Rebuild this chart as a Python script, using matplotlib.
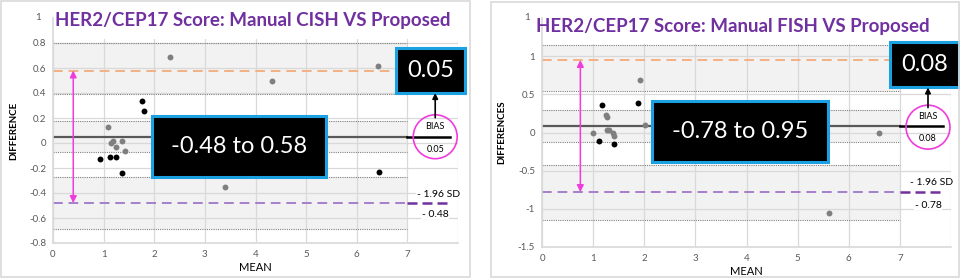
import numpy as np
import matplotlib as mpl
from matplotlib import pyplot as plt
from matplotlib.patches import Rectangle

mpl.rcParams['font.family'] = ['Lato', 'DejaVu Sans']

# ---- CISH panel data ----
cish_gray_x = [2.31, 1.08, 1.15, 1.18, 1.37, 1.25, 1.42, 6.41, 4.33, 3.39]
cish_gray_y = [0.69, 0.13, 0.00, 0.02, 0.02, -0.03, -0.06, 0.62, 0.50, -0.35]
cish_black_x = [1.76, 1.80, 0.92, 1.13, 1.25, 1.37, 6.44]
cish_black_y = [0.34, 0.26, -0.13, -0.11, -0.11, -0.24, -0.23]
cish_bias = 0.05
cish_upper = 0.58
cish_lower = -0.48
cish_band_edges = [(0.39, 0.80), (-0.07, 0.18), (-0.69, -0.27)]
cish_yticks = [-0.8, -0.6, -0.4, -0.2, 0, 0.2, 0.4, 0.6, 0.8]

# ---- FISH panel data ----
fish_gray_x = [1.92, 1.25, 1.27, 2.01, 1.27, 1.32, 1.38, 1.41, 0.99, 6.59, 5.61]
fish_gray_y = [0.69, 0.23, 0.20, 0.10, 0.03, 0.035, 0.00, -0.05, -0.01, -0.01, -1.06]
fish_black_x = [1.88, 1.18, 1.12, 1.41]
fish_black_y = [0.39, 0.36, -0.11, -0.15]
fish_bias = 0.08
fish_upper = 0.95
fish_lower = -0.78
fish_band_edges = [(0.55, 1.14), (-0.13, 0.29), (-1.14, -0.42)]
fish_yticks = [-1.5, -1, -0.5, 0, 0.5, 1]

xticks = [0, 1, 2, 3, 4, 5, 6, 7]

PURPLE = "#7030A0"
CYAN = "#1BA1E2"
MAGENTA = "#F03CDC"
GRID = "#d9d9d9"


def draw_panel(ax, gx, gy, bx, by, bias, upper, lower, bands, yticks, ylim,
               cover_from, top_label, ylabel, title, title_pos, arrow_x, big_box,
               bias_box, circ_y, bias_txt_y, sd_y):
    ax.set_xlim(0, 8)
    ax.set_ylim(*ylim)
    ax.set_xticks(xticks + [8])
    ax.set_xticklabels([str(t) for t in xticks] + [""])
    ax.set_yticks(yticks)
    ax.set_yticklabels(["{:g}".format(t) for t in yticks])
    ax.tick_params(length=0, labelsize=7, colors="#595959", pad=5)
    ax.grid(True, color=GRID, lw=0.9)
    ax.set_axisbelow(True)
    for s in ["top", "right"]:
        ax.spines[s].set_visible(False)
    for s in ["left", "bottom"]:
        ax.spines[s].set_color(GRID)
        ax.spines[s].set_linewidth(1.2)

    # shaded bands with dotted edges
    for lo, hi in bands:
        ax.fill_between([0, 7], lo, hi, color="#f2f2f2", zorder=0.5, lw=0)
        for v in (lo, hi):
            ax.plot([0, 7], [v, v], ls=(0, (1, 1)), color="#808080", lw=0.8, zorder=1)

    # white cover behind title
    ax.axhspan(cover_from, ylim[1], color="white", zorder=1.5, lw=0)
    ax.text(-0.03, ylim[1], top_label, ha="right", va="center", fontsize=7,
            color="#595959", transform=ax.get_yaxis_transform())

    # limits of agreement and bias
    ax.plot([0, 7], [upper, upper], ls=(0, (5, 3)), color="#F4B183", lw=1.4, zorder=2)
    ax.plot([0, 7], [lower, lower], ls=(0, (5, 3)), color="#A47FCB", lw=1.4, zorder=2)
    ax.plot([7, 7.85], [lower, lower], ls=(0, (4, 2)), color=PURPLE, lw=1.8, zorder=2)
    ax.plot([0, 7], [bias, bias], color="#595959", lw=1.6, zorder=2)
    ax.plot([7, 7.85], [bias, bias], color="black", lw=1.8, zorder=3)

    ax.scatter(gx, gy, s=18, color="#7f7f7f", zorder=4, lw=0)
    ax.scatter(bx, by, s=18, color="black", zorder=4, lw=0)

    # magenta double arrow between limits
    ax.annotate("", xy=(arrow_x, lower), xytext=(arrow_x, upper),
                arrowprops=dict(arrowstyle="<|-|>", color=MAGENTA, lw=1.1,
                                mutation_scale=10, shrinkA=0, shrinkB=0), zorder=5)

    # big black range box
    x0, x1, y0, y1 = big_box
    ax.add_patch(Rectangle((x0, y0), x1 - x0, y1 - y0, facecolor="black",
                           edgecolor=CYAN, lw=2.2, zorder=6, clip_on=False))
    ax.text((x0 + x1) / 2, (y0 + y1) / 2, "{:.2f} to {:.2f}".format(lower, upper),
            ha="center", va="center", color="white", fontsize=17, zorder=7)

    # bias value box
    x0, x1, y0, y1 = bias_box
    ax.add_patch(Rectangle((x0, y0), x1 - x0, y1 - y0, facecolor="black",
                           edgecolor=CYAN, lw=2.2, zorder=6, clip_on=False))
    ax.text((x0 + x1) / 2, (y0 + y1) / 2, "{:.2f}".format(bias),
            ha="center", va="center", color="white", fontsize=17, zorder=7)

    # bias circle
    cx = 7.55
    ax.scatter([cx], [circ_y], s=1000, facecolor="none", edgecolor=MAGENTA,
               lw=1.2, zorder=6, clip_on=False)
    ax.text(cx, bias_txt_y[0], "BIAS", ha="center", va="center", fontsize=6.5, zorder=7)
    ax.text(cx, bias_txt_y[1], "{:.2f}".format(bias), ha="center", va="center",
            fontsize=6.5, zorder=7)
    ax.annotate("", xy=(cx, y0), xytext=(cx, bias_txt_y[0] + (bias_txt_y[0] - bias) * 0.9),
                arrowprops=dict(arrowstyle="-|>", color="black", lw=1.2,
                                mutation_scale=8, shrinkA=0, shrinkB=0), zorder=7,
                annotation_clip=False)

    # -1.96 SD labels
    ax.text(7.62, sd_y[0], "- 1.96 SD", ha="center", va="center", fontsize=7.5,
            zorder=7, bbox=dict(facecolor="white", edgecolor="none", pad=0.5))
    ax.text(7.55, sd_y[1], "- {:.2f}".format(abs(lower)), ha="center", va="center",
            fontsize=7.5, zorder=7, bbox=dict(facecolor="white", edgecolor="none", pad=0.5))

    ax.set_ylabel(ylabel, fontsize=7, fontweight="bold", labelpad=8)
    ax.set_xlabel("MEAN", fontsize=8, labelpad=2)
    ax.text(title_pos[0], title_pos[1], title, transform=ax.transAxes,
            ha="center", va="center", color=PURPLE, fontsize=13.5, fontweight="bold", zorder=8)


fig = plt.figure(figsize=(9.6, 2.78), dpi=100)
ax1 = fig.add_axes([53 / 960, 1 - 243 / 278, 405 / 960, 225 / 278])
ax2 = fig.add_axes([542 / 960, 1 - 247 / 278, 409 / 960, 229 / 278])

draw_panel(ax1, cish_gray_x, cish_gray_y, cish_black_x, cish_black_y,
           cish_bias, cish_upper, cish_lower, cish_band_edges, cish_yticks, (-0.8, 1.0),
           0.83, "1", "DIFFERENCE", "HER2/CEP17 Score: Manual CISH VS Proposed", (0.494, 0.99),
           0.40, (1.96, 5.40, -0.27, 0.22), (6.78, 8.13, 0.40, 0.76),
           0.05, (0.13, -0.05), (-0.41, -0.57))
draw_panel(ax2, fish_gray_x, fish_gray_y, fish_black_x, fish_black_y,
           fish_bias, fish_upper, fish_lower, fish_band_edges, fish_yticks, (-1.5, 1.5),
           1.16, "1", "DIFFERENCES", "HER2/CEP17 Score: Manual FISH VS Proposed", (0.467, 0.965),
           0.75, (2.16, 5.59, -0.39, 0.41), (6.80, 8.16, 0.59, 1.18),
           0.07, (0.21, -0.08), (-0.66, -0.95))

# chart area borders
fig.add_artist(Rectangle((1 / 960, 1 / 278), 469 / 960, 276 / 278, transform=fig.transFigure,
                         facecolor="none", edgecolor=GRID, lw=1.2))
fig.add_artist(Rectangle((491 / 960, 1 / 278), 468 / 960, 275 / 278, transform=fig.transFigure,
                         facecolor="none", edgecolor=GRID, lw=1.2))

fig.savefig("out.png", dpi=100)
